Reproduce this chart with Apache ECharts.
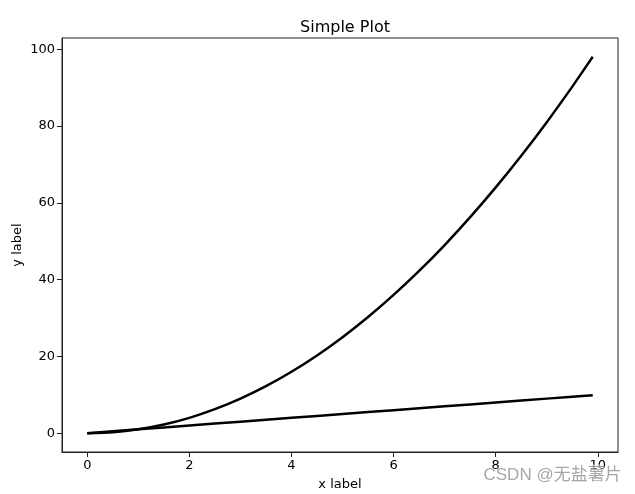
<!DOCTYPE html>
<html>
<head>
<meta charset="utf-8">
<script src="https://cdn.jsdelivr.net/npm/echarts@6/dist/echarts.min.js"></script>
<style>html,body{margin:0;padding:0;background:#fff}#c{width:635px;height:494px}</style>
</head>
<body>
<div id="c"></div>
<script>
const xValues = [0,0.5,1,1.5,2,2.5,3,3.5,4,4.5,5,5.5,6,6.5,7,7.5,8,8.5,9,9.5,9.9];
const linearValues = [0,0.5,1,1.5,2,2.5,3,3.5,4,4.5,5,5.5,6,6.5,7,7.5,8,8.5,9,9.5,9.9];
const quadraticValues = [0,0.25,1,2.25,4,6.25,9,12.25,16,20.25,25,30.25,36,42.25,49,56.25,64,72.25,81,90.25,98.01];
const xTicks = [0,2,4,6,8,10];
const yTicks = [0,20,40,60,80,100];
const titleText = 'Simple Plot';
const xName = 'x label';
const yName = 'y label';
const watermark = 'CSDN @无盐薯片';

const font = 'DejaVu Sans';
const chart = echarts.init(document.getElementById('c'), null, {renderer:'canvas'});
const pairs = (ys) => xValues.map((x,i)=>[x, ys[i]]);
chart.setOption({
  animation:false,
  backgroundColor:'#fff',
  title:{text:titleText,left:340,top:15,textAlign:'center',textStyle:{fontFamily:font,fontSize:16,fontWeight:'normal',color:'#000'}},
  grid:{left:62,top:38,width:556,height:414,outerBoundsMode:'none',containLabel:false,show:true,borderColor:'#222',borderWidth:1,backgroundColor:'transparent'},
  xAxis:{type:'value',min:-0.495,max:10.395,
    name:xName,nameLocation:'middle',nameGap:26,nameMoveOverlap:false,nameTextStyle:{fontFamily:font,fontSize:13,color:'#000'},
    axisLine:{show:true,onZero:false,lineStyle:{color:'#222',width:1}},
    axisTick:{show:true,length:5,inside:false,customValues:xTicks,lineStyle:{color:'#222'}},
    axisLabel:{customValues:xTicks,fontFamily:font,fontSize:13,color:'#000',margin:7},
    splitLine:{show:false}},
  yAxis:{type:'value',min:-4.9,max:102.91,
    name:yName,nameLocation:'middle',nameGap:38,nameMoveOverlap:false,nameRotate:90,nameTextStyle:{fontFamily:font,fontSize:13,color:'#000'},
    axisLine:{show:true,onZero:false,lineStyle:{color:'#222',width:1}},
    axisTick:{show:true,length:5,inside:false,customValues:yTicks,lineStyle:{color:'#222'}},
    axisLabel:{customValues:yTicks,fontFamily:font,fontSize:13,color:'#000',margin:7},
    splitLine:{show:false}},
  series:[
    {type:'line',data:pairs(linearValues),showSymbol:false,symbol:'none',lineStyle:{color:'#000',width:2.5},z:3},
    {type:'line',data:pairs(quadraticValues),showSymbol:false,symbol:'none',smooth:0.2,lineStyle:{color:'#000',width:2.5},z:3}
  ],
  graphic:[{type:'text',left:483,top:466,z:100,style:{text:watermark,fontFamily:'Liberation Sans, Noto Sans CJK SC',fontSize:17,fill:'rgba(150,150,150,0.85)',stroke:'rgba(255,255,255,0.6)',lineWidth:1}}]
});
</script>
</body>
</html>
